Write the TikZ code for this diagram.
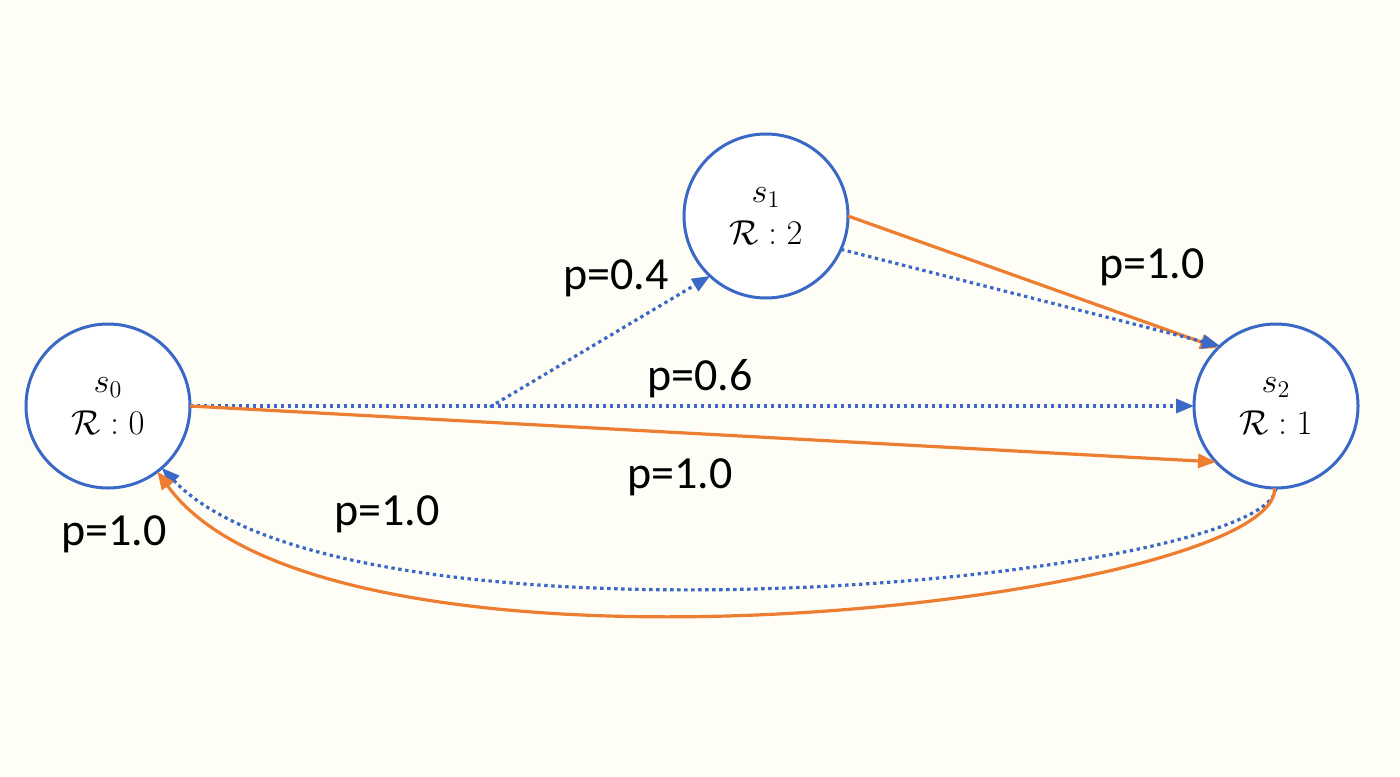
\documentclass[tikz,border=0pt]{standalone}
\usepackage{fontspec}
\setmainfont{Carlito}
\usetikzlibrary{arrows.meta}
\definecolor{bg}{HTML}{FEFEF6}
\definecolor{stblue}{HTML}{3A68C6}
\definecolor{storange}{HTML}{ED7D31}
\tikzset{
  state/.style={circle, draw=stblue, line width=1.5pt, fill=white, minimum size=82pt, inner sep=0pt, outer sep=0pt,
    align=center, font=\fontsize{18}{21}\selectfont},
  bluedot/.style={draw=stblue, line width=1.6pt, dash pattern=on 1.7pt off 1.8pt, -{Triangle[length=9pt,width=7pt]}},
  orangeline/.style={draw=storange, line width=1.6pt, -{Triangle[length=9pt,width=7pt]}},
  plabel/.style={font=\fontsize{23}{27}\selectfont, anchor=base, inner sep=0pt}
}
\begin{document}
\begin{tikzpicture}[x=0.5pt,y=-0.5pt]
\useasboundingbox[fill=bg] (0,0) rectangle (1400,776);
\node[state] (s0) at (108,406) {$s_0$\\$\mathcal{R}:0$};
\node[state] (s1) at (766,216) {$s_1$\\$\mathcal{R}:2$};
\node[state] (s2) at (1276,406) {$s_2$\\$\mathcal{R}:1$};
\coordinate (br) at (490,407);
\draw[bluedot] (s0.0) -- (s2.180);
\draw[bluedot] (br) -- (s1.227);
\draw[orangeline] (s0.0) -- (s2.223);
\draw[orangeline] (s1.0) -- (s2.135);
\draw[bluedot] (s1.-24) -- (s2.133);
\draw[bluedot] (s2.-90) .. controls (1270,580) and (350,665) .. (s0.-49);
\draw[orangeline] (s2.-91) .. controls (1280,600) and (330,712) .. (s0.-53);
\node[plabel] (l1) at (616,289) {p=0.4};
\node[plabel] (l2) at (1152,278) {p=1.0};
\node[plabel] (l3) at (700,390) {p=0.6};
\node[plabel] (l4) at (680,488) {p=1.0};
\node[plabel] (l5) at (387,525) {p=1.0};
\node[plabel] (l6) at (114,545) {p=1.0};
\end{tikzpicture}
\end{document}
